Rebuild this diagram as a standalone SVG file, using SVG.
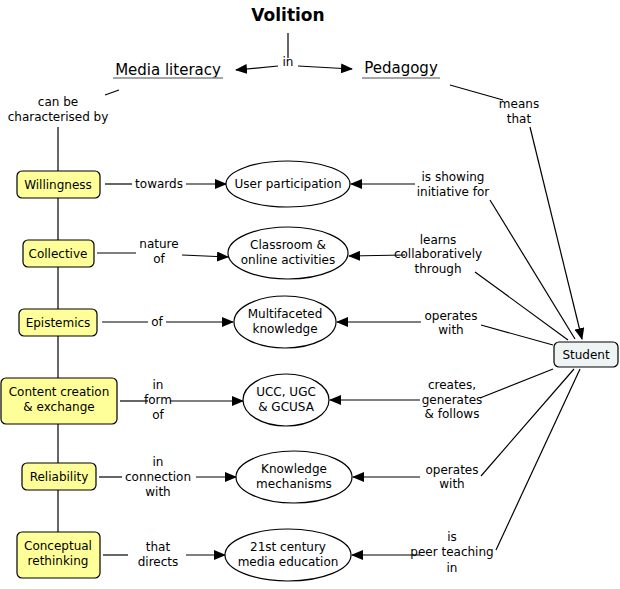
<svg xmlns="http://www.w3.org/2000/svg" width="620" height="589" viewBox="0 0 620 589">
<defs>
<marker id="a" markerWidth="12" markerHeight="10" refX="11" refY="5" orient="auto" markerUnits="userSpaceOnUse"><path d="M0,0 L12,5 L0,10 z" fill="#000"/></marker>
<style>
text{font-family:"DejaVu Sans",Verdana,sans-serif;font-size:12px;text-anchor:middle;fill:#000}
.c line{stroke:#000;stroke-width:1.2}
.ar{marker-end:url(#a)}
.b{fill:#ffff99;stroke:#000;stroke-width:1.2}
.e{fill:#fff;stroke:#000;stroke-width:1.2}
.u{stroke:#888;stroke-width:1.5}
</style>
</defs>
<rect width="620" height="589" fill="#fff"/>
<g class="c" id="connectors">
<line x1="288" y1="33" x2="288" y2="58"/>
<line class="ar" x1="278" y1="66" x2="236" y2="70"/>
<line class="ar" x1="298" y1="66" x2="352" y2="69"/>
<line x1="119" y1="90" x2="105" y2="95"/>
<line x1="58" y1="127" x2="58" y2="171"/>
<line x1="58" y1="198" x2="58" y2="240"/>
<line x1="58" y1="267" x2="58" y2="309"/>
<line x1="58" y1="336" x2="58" y2="378"/>
<line x1="58" y1="424" x2="58" y2="463"/>
<line x1="58" y1="490" x2="58" y2="532"/>
<line x1="450" y1="85" x2="503" y2="100"/>
<line class="ar" x1="530" y1="127" x2="582" y2="339"/>
<line x1="105" y1="184" x2="132" y2="184"/>
<line class="ar" x1="186" y1="184" x2="226" y2="184"/>
<line x1="97" y1="253" x2="136" y2="253"/>
<line class="ar" x1="182" y1="255" x2="228" y2="257"/>
<line x1="102" y1="322" x2="148" y2="322"/>
<line class="ar" x1="166" y1="322" x2="233" y2="322"/>
<line x1="120" y1="401" x2="148" y2="401"/>
<line class="ar" x1="170" y1="401" x2="243" y2="401"/>
<line x1="99" y1="477" x2="122" y2="477"/>
<line class="ar" x1="196" y1="477" x2="236" y2="477"/>
<line x1="103" y1="555" x2="128" y2="555"/>
<line class="ar" x1="186" y1="555" x2="225" y2="555"/>
<line class="ar" x1="415" y1="184" x2="351" y2="184"/>
<line x1="490" y1="200" x2="575" y2="339"/>
<line class="ar" x1="405" y1="255" x2="349" y2="256"/>
<line x1="475" y1="272" x2="568" y2="340"/>
<line class="ar" x1="421" y1="322" x2="337" y2="322"/>
<line x1="481" y1="325" x2="553" y2="345"/>
<line class="ar" x1="420" y1="400" x2="330" y2="400"/>
<line x1="480" y1="398" x2="553" y2="369"/>
<line class="ar" x1="420" y1="477" x2="353" y2="477"/>
<line x1="481" y1="476" x2="574" y2="369"/>
<line class="ar" x1="420" y1="555" x2="352" y2="555"/>
<line x1="496" y1="550" x2="580" y2="369"/>
</g>
<g id="labels">
<text x="288" y="66">in</text>
<text x="58" y="106">can be</text><text x="58" y="121">characterised by</text>
<text x="519" y="108">means</text><text x="519" y="123">that</text>
<text x="159" y="188">towards</text>
<text x="159" y="248">nature</text><text x="159" y="263">of</text>
<text x="157" y="326">of</text>
<text x="158" y="389">in</text><text x="158" y="404">form</text><text x="158" y="419">of</text>
<text x="158" y="466">in</text><text x="158" y="481">connection</text><text x="158" y="496">with</text>
<text x="158" y="551">that</text><text x="158" y="566">directs</text>
<text x="453" y="181">is showing</text><text x="453" y="196">initiative for</text>
<text x="438" y="244">learns</text><text x="438" y="258">collaboratively</text><text x="438" y="273">through</text>
<text x="451" y="320">operates</text><text x="451" y="334">with</text>
<text x="452" y="389">creates,</text><text x="452" y="404">generates</text><text x="452" y="418">&amp; follows</text>
<text x="452" y="474">operates</text><text x="452" y="488">with</text>
<text x="452" y="541">is</text><text x="452" y="556">peer teaching</text><text x="452" y="572">in</text>
</g>
<g id="volition"><text x="288" y="21" style="font-size:17px;font-weight:bold">Volition</text></g>
<g id="media"><text x="168" y="75" style="font-size:15px">Media literacy</text><line class="u" x1="113" y1="78" x2="223" y2="78"/></g>
<g id="pedagogy"><text x="401" y="73" style="font-size:15px">Pedagogy</text><line class="u" x1="362" y1="78" x2="440" y2="78"/></g>
<g id="willingness"><rect class="b" x="17" y="171" width="83" height="27" rx="5"/><text x="58" y="189">Willingness</text></g>
<g id="collective"><rect class="b" x="23" y="240" width="71" height="27" rx="5"/><text x="58" y="258">Collective</text></g>
<g id="epistemics"><rect class="b" x="19" y="309" width="78" height="27" rx="5"/><text x="58" y="327">Epistemics</text></g>
<g id="content"><rect class="b" x="1" y="378" width="116" height="46" rx="5"/><text x="59" y="396">Content creation</text><text x="59" y="411">&amp; exchange</text></g>
<g id="reliability"><rect class="b" x="22" y="463" width="74" height="27" rx="5"/><text x="59" y="481">Reliability</text></g>
<g id="conceptual"><rect class="b" x="17" y="532" width="83" height="46" rx="5"/><text x="58" y="550">Conceptual</text><text x="58" y="565">rethinking</text></g>
<g id="userpart"><ellipse class="e" cx="288" cy="184" rx="62" ry="23"/><text x="288" y="188">User participation</text></g>
<g id="classroom"><ellipse class="e" cx="288" cy="253" rx="60" ry="26"/><text x="288" y="249">Classroom &amp;</text><text x="288" y="264">online activities</text></g>
<g id="multifaceted"><ellipse class="e" cx="285" cy="322" rx="51" ry="26"/><text x="285" y="318">Multifaceted</text><text x="285" y="333">knowledge</text></g>
<g id="ucc"><ellipse class="e" cx="286" cy="400" rx="43" ry="26"/><text x="286" y="396">UCC, UGC</text><text x="286" y="411">&amp; GCUSA</text></g>
<g id="knowledge"><ellipse class="e" cx="294" cy="477" rx="58" ry="26"/><text x="294" y="473">Knowledge</text><text x="294" y="488">mechanisms</text></g>
<g id="century"><ellipse class="e" cx="288" cy="555" rx="63" ry="26"/><text x="288" y="551">21st century</text><text x="288" y="566">media education</text></g>
<g id="student"><rect x="554" y="342" width="64" height="25" rx="5" fill="#eef4f4" stroke="#000" stroke-width="1.2"/><text x="586" y="359">Student</text></g>
</svg>
